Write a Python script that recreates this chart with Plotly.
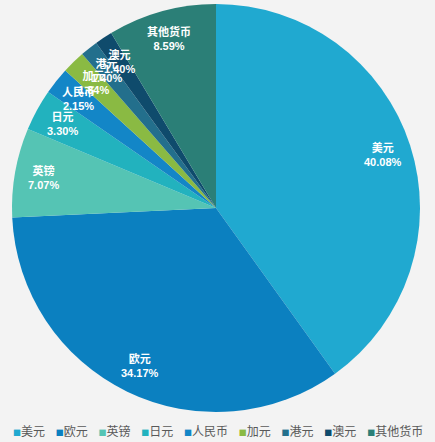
import math
import plotly.graph_objects as go

categories = ["美元", "欧元", "英镑", "日元", "人民币", "加元", "港元", "澳元", "其他货币"]
shares = [40.08, 34.17, 7.07, 3.30, 2.15, 1.84, 1.40, 1.40, 8.59]
colors = ["#20a9d0", "#0b80c0", "#55c4b4", "#22b2be", "#1386c7", "#8aba43",
          "#236f8c", "#0f4b6c", "#2b7f77"]

W, H = 435, 442
cx, cy, R = 216, 208, 204  # pie centre / radius in pixels (domain below)

fig = go.Figure(go.Pie(
    labels=categories,
    values=shares,
    sort=False,
    direction="clockwise",
    rotation=0,
    marker=dict(colors=colors, line=dict(width=0)),
    textinfo="none",
    domain=dict(x=[(cx - R) / W, (cx + R) / W], y=[(H - cy - R) / H, (H - cy + R) / H]),
    hoverinfo="label+percent",
    showlegend=False,
))

# data labels placed at mid-angle of each slice
total = sum(shares)
cum = 0.0
annotations = []
for name, v in zip(categories, shares):
    mid = (cum + v / 2) / total * 2 * math.pi
    cum += v
    r = 0.86 * R
    px = cx + r * math.sin(mid)
    py = cy - r * math.cos(mid)
    annotations.append(dict(
        x=px / W, y=1 - py / H, xref="paper", yref="paper",
        xanchor="center", yanchor="middle",
        text=f"<b>{name}<br>{v:.2f}%</b>", showarrow=False,
        font=dict(family="Liberation Sans, Noto Sans CJK SC", size=11, color="white"),
        align="center",
    ))

# legend row
items = []
for name, c in zip(categories, colors):
    items.append(f'<span style="color:{c};font-size:8px">■</span>{name}')
legend_text = "&nbsp;&nbsp;&nbsp;&nbsp;".join(items)
annotations.append(dict(
    x=0.5, y=12 / H, xref="paper", yref="paper", xanchor="center", yanchor="middle",
    text=legend_text, showarrow=False,
    font=dict(family="Noto Sans CJK SC", size=12, color="#595959"),
))

fig.update_layout(
    width=W, height=H,
    margin=dict(l=0, r=0, t=0, b=0),
    paper_bgcolor="#f3f3f3",
    plot_bgcolor="#f3f3f3",
    annotations=annotations,
)

fig.write_html("out.html")
